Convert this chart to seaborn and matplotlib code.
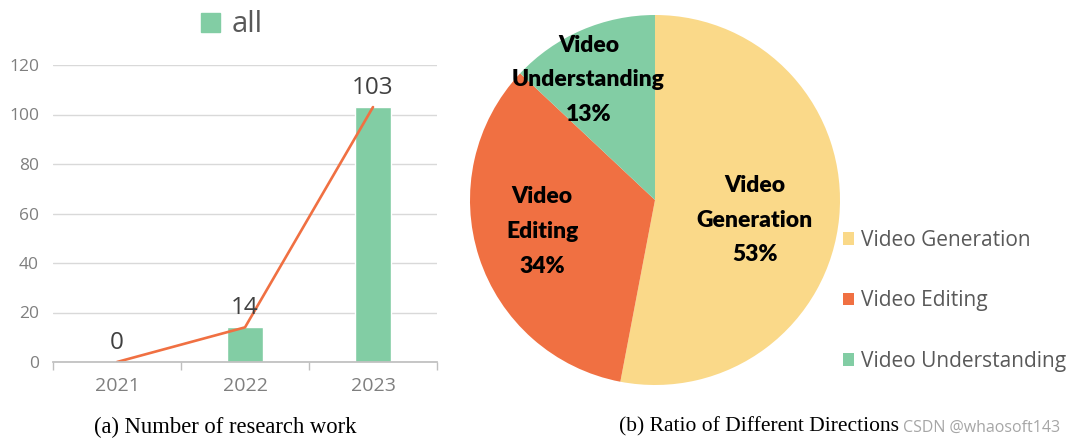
import matplotlib
matplotlib.use('Agg')
import matplotlib.pyplot as plt
from matplotlib.patches import Patch
import pandas as pd
import seaborn as sns

# data
years = ['2021', '2022', '2023']
counts = [0, 14, 103]

directions = ['Video Generation', 'Video Editing', 'Video Understanding']
pie_names = ['Video\nGeneration', 'Video\nEditing', 'Video\nUnderstanding']
ratios = [53, 34, 13]

green = '#82CDA4'
yellow = '#FAD989'
orange = '#F07042'

sns.set_theme(style='white')
plt.rcParams['font.family'] = ['Open Sans', 'DejaVu Sans']

df = pd.DataFrame({'year': years, 'count': counts})
df['pos'] = df.index

W, H = 1075, 445
fig = plt.figure(figsize=(W / 100, H / 100), dpi=100)

# (a) bar + line
ax1 = fig.add_axes([53 / W, 1 - 362 / H, 384 / W, 297 / H])
sns.barplot(data=df, x='year', y='count', color=green, width=0.28, saturation=1, ax=ax1)
sns.lineplot(data=df, x='pos', y='count', color=orange, linewidth=1.9, sort=False, ax=ax1)
ax1.set_xlim(-0.5, 2.5)
ax1.set_ylim(0, 120)
ax1.set_yticks(range(0, 121, 20))
ax1.set_xticks(range(len(years)))
ax1.set_xticklabels(years)
ax1.set_xticks([-0.5, 0.5, 1.5, 2.5], minor=True)
ax1.yaxis.grid(True, color='#D9D9D9', linewidth=1)
ax1.set_axisbelow(True)
for s in ['left', 'top', 'right']:
    ax1.spines[s].set_visible(False)
ax1.spines['bottom'].set_color('#BFBFBF')
ax1.tick_params(axis='x', which='major', length=0, pad=11, labelsize=14, labelcolor='#7F7F7F')
ax1.tick_params(axis='x', which='minor', length=6, width=1, color='#BFBFBF', direction='out', bottom=True)
ax1.tick_params(axis='y', length=0, pad=10, labelsize=12.5, labelcolor='#7F7F7F')
ax1.set_xlabel('')
ax1.set_ylabel('')
for i, v in enumerate(counts):
    ax1.annotate(str(v), (i, v), xytext=(0, 5), textcoords='offset points',
                 ha='center', va='bottom', fontsize=17.5, color='#404040')

fig.legend(handles=[Patch(color=green, label='all')], loc='center',
           bbox_to_anchor=(232 / W, 1 - 25 / H), frameon=False, fontsize=21,
           handlelength=0.65, handleheight=0.65, handletextpad=0.4, labelcolor='#595959')

fig.text(225 / W, 1 - 427 / H, '(a) Number of research work', ha='center', va='center',
         family='Liberation Serif', fontsize=16.3, color='black')

# (b) pie
ax2 = fig.add_axes([470 / W, 1 - 385 / H, 370 / W, 370 / H])
wedges, texts = ax2.pie(ratios, colors=[yellow, orange, green], startangle=90, counterclock=False,
                        labels=[f'{n}\n{r}%' for n, r in zip(pie_names, ratios)],
                        labeldistance=0.6, wedgeprops=dict(linewidth=0),
                        textprops=dict(fontsize=16.5, fontweight='heavy', color='black',
                                       family=['Lato', 'DejaVu Sans'], linespacing=1.8))
label_xy = [(0.54, -0.11), (-0.61, -0.17), (-0.36, 0.65)]
for t, xy in zip(texts, label_xy):
    t.set_position(xy)
    t.set_ha('center')
    t.set_va('center')
ax2.set_xlim(-1, 1)
ax2.set_ylim(-1, 1)

leg = fig.legend(handles=wedges, labels=directions, loc='center left',
                 bbox_to_anchor=(843 / W, 1 - 301 / H), frameon=False, fontsize=15,
                 labelcolor='#595959', handlelength=0.55, handleheight=0.55, handletextpad=0.3,
                 labelspacing=1.9, borderpad=0, borderaxespad=0)
leg.set_zorder(5)

fig.text(759 / W, 1 - 427 / H, '(b) Ratio of Different Directions', ha='center', va='center',
         family='Liberation Serif', fontsize=15.5, color='black')
fig.text(1060 / W, 1 - 428 / H, 'CSDN @whaosoft143', ha='right', va='center',
         fontsize=11.5, color='#A6A6A6', zorder=10,
         bbox=dict(facecolor='white', alpha=0.5, edgecolor='none', pad=0))

fig.savefig('out.png', dpi=100)
